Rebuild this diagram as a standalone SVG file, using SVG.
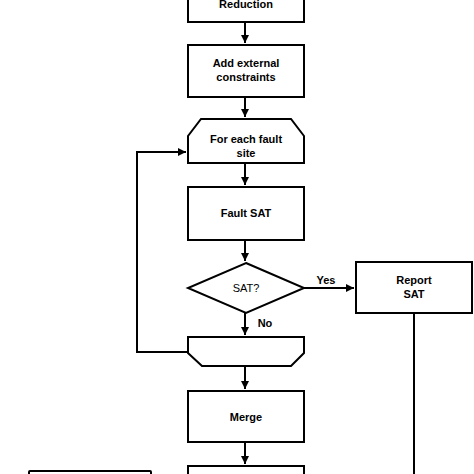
<svg xmlns="http://www.w3.org/2000/svg" width="474" height="474" viewBox="0 0 474 474">
<defs>
<marker id="ah" viewBox="0 0 10 10" refX="10" refY="5" markerWidth="4" markerHeight="4" markerUnits="strokeWidth" orient="auto">
<path d="M0,0 L10,5 L0,10 z" fill="#000"/>
</marker>
<style>
.s{fill:#fff;stroke:#000;stroke-width:2}
.c{fill:none;stroke:#000;stroke-width:2}
.t{font-family:"Liberation Sans",Arial,sans-serif;font-size:11px;font-weight:bold;fill:#000;text-anchor:middle}
</style>
</defs>
<rect width="474" height="474" fill="#fff"/>
<g id="connectors">
<path class="c" d="M245,22 V43" marker-end="url(#ah)"/>
<path class="c" d="M245,97 V117" marker-end="url(#ah)"/>
<path class="c" d="M245,163 V185" marker-end="url(#ah)"/>
<path class="c" d="M245,240 V261" marker-end="url(#ah)"/>
<path class="c" d="M303,288 H354" marker-end="url(#ah)"/>
<path class="c" d="M245,313 V335" marker-end="url(#ah)"/>
<path class="c" d="M188,352 H137 V152 H186" marker-end="url(#ah)"/>
<path class="c" d="M245,366 V389" marker-end="url(#ah)"/>
<path class="c" d="M245,442 V464" marker-end="url(#ah)"/>
<path class="c" d="M414,313 V476"/>
<text class="t" x="326" y="284">Yes</text>
<text class="t" x="265" y="327">No</text>
</g>
<g id="reduction">
<rect class="s" x="188" y="-30" width="116" height="52"/>
<text class="t" x="246" y="8">Reduction</text>
</g>
<g id="add-constraints">
<rect class="s" x="188" y="45" width="116" height="52"/>
<text class="t" x="246" y="67">Add external</text>
<text class="t" x="246" y="81">constraints</text>
</g>
<g id="for-each">
<path class="s" d="M201,119 H291 L304,136 V163 H188 V136 Z"/>
<text class="t" x="246" y="143">For each fault</text>
<text class="t" x="246" y="157">site</text>
</g>
<g id="fault-sat">
<rect class="s" x="188" y="187" width="116" height="53"/>
<text class="t" x="246" y="217">Fault SAT</text>
</g>
<g id="sat-decision">
<path class="s" d="M246,263 L304,288 L246,313 L188,288 Z"/>
<text class="t" x="246" y="292" style="font-weight:normal">SAT?</text>
</g>
<g id="report-sat">
<rect class="s" x="356" y="262" width="116" height="51"/>
<text class="t" x="414" y="284">Report</text>
<text class="t" x="414" y="298">SAT</text>
</g>
<g id="loop-end">
<path class="s" d="M188,337 H304 V353 L291,366 H202 L188,353 Z"/>
</g>
<g id="merge">
<rect class="s" x="188" y="391" width="116" height="51"/>
<text class="t" x="246" y="421">Merge</text>
</g>
<g id="next-box">
<rect class="s" x="188" y="466" width="116" height="30"/>
</g>
<g id="left-box">
<path class="s" d="M29,480 V472 Q29,471 30,471 H150 Q151,471 151,472 V480"/>
</g>
</svg>
